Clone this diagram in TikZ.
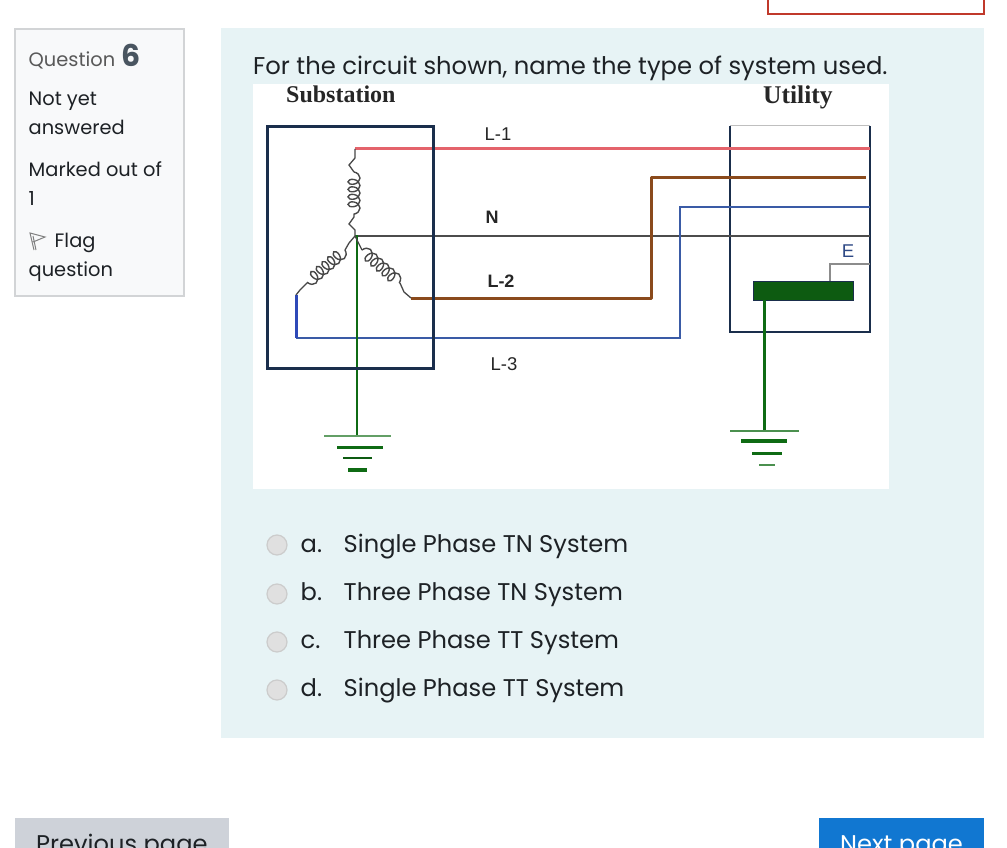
\documentclass[tikz,border=0pt]{standalone}
\usepackage{fontspec}
\setmainfont{Poppins}
\newfontfamily\photoserif{Liberation Serif}
\newfontfamily\photosans{Liberation Sans}
\usepackage{tikz}
\usetikzlibrary{decorations.pathmorphing}
\definecolor{panelbg}{HTML}{E7F3F5}
\definecolor{sidebg}{HTML}{F8F9FA}
\definecolor{sideline}{HTML}{D2D4D6}
\definecolor{boxnavy}{HTML}{1A2E4C}
\definecolor{topred}{HTML}{C0392B}
\definecolor{wirered}{HTML}{E4636B}
\definecolor{wirebrown}{HTML}{8A4A1C}
\definecolor{wireblue}{HTML}{3A5BA6}
\definecolor{wiregreen}{HTML}{0F6B14}
\definecolor{coilgray}{HTML}{484848}
\definecolor{txtgray}{HTML}{1D2125}
\definecolor{numgray}{HTML}{495560}
\definecolor{prevbg}{HTML}{CED2D9}
\definecolor{nextbg}{HTML}{1177D1}
\tikzstyle{txt} = [anchor=base west,inner sep=0pt,text=txtgray]
\tikzstyle{uitext} = [txt,font=\fontsize{19.4}{24}\selectfont]
\tikzstyle{choice} = [txt,font=\fontsize{24.15}{30}\selectfont]
\tikzstyle{wirelabel} = [anchor=center,inner sep=0pt,text=black!85,font=\photosans\fontsize{18.5}{22}\selectfont]
\tikzstyle{radio} = [circle,draw=black!20,fill=black!12,line width=1.2pt,minimum size=20pt,inner sep=0pt]
\tikzstyle{coil} = [draw=coilgray,line width=1.4pt,decorate,decoration={coil,aspect=0.7,segment length=7.5pt,amplitude=6pt}]
\tikzstyle{coillead} = [coilgray,line width=1.3pt]

\begin{document}
\begin{tikzpicture}[yscale=-1,x=1pt,y=1pt]
	\clip (0,0) rectangle (1007,848);
	\fill[white] (0,0) rectangle (1007,848);
	% page furniture
	\draw[topred,line width=1.5pt] (768,-5) rectangle (984,14);
	\draw[sideline,fill=sidebg,line width=2pt] (15,29) rectangle (184,296);
	\fill[panelbg] (221,28) rectangle (984,738);
	\fill[white] (253,84) rectangle (889,489);
	\fill[prevbg] (15,818) rectangle (229,860);
	\fill[nextbg] (819,818) rectangle (984,860);
	% side block
	\node at (28.5,67)[uitext,text=black!65] (qword) {Question};
	\node at (121,67)[txt,text=numgray,font=\fontsize{30}{30}\selectfont\bfseries] (qnum) {6};
	\node at (28.5,106)[uitext] (notyet) {Not yet};
	\node at (28.5,135)[uitext] (answered) {answered};
	\node at (28.5,176)[uitext] (marked) {Marked out of};
	\node at (28.5,205)[uitext] (one) {1};
	\draw[black!50,line width=1pt] (34,250) -- (30,233) -- (45,237) -- (33,242);
	\draw[black!50,line width=1pt] (36,250) -- (33,236);
	\node at (54.5,247)[uitext] (flag) {Flag};
	\node at (28.5,276)[uitext] (flagq) {question};
	% question
	\node at (253,74.5)[txt,font=\fontsize{24.25}{30}\selectfont] (title) {For the circuit shown, name the type of system used.};
	\node at (286,103)[anchor=base west,inner sep=0pt,text=black!85,font=\photoserif\bfseries\fontsize{24}{28}\selectfont] (substation) {Substation};
	\node at (763,104)[anchor=base west,inner sep=0pt,text=black!85,font=\photoserif\bfseries\fontsize{25.5}{28}\selectfont] (utility) {Utility};
	\node at (498,134)[wirelabel] (lone) {L-1};
	\node at (492,217)[wirelabel,font=\photosans\bfseries\fontsize{18}{22}\selectfont] (neutral) {N};
	\node at (501,281)[wirelabel,font=\photosans\bfseries\fontsize{18}{22}\selectfont] (ltwo) {L-2};
	\node at (504,364)[wirelabel] (lthree) {L-3};
	\node at (848,251)[wirelabel,text=wireblue!80!black] (earth) {E};
	% wire points
	\coordinate (star) at (355,236);
	\coordinate (redstart) at (355,149);
	\coordinate (redend) at (870,149);
	\coordinate (neutralend) at (870,236);
	\coordinate (coilatop) at (354,172);
	\coordinate (coilabot) at (354,217);
	\coordinate (coilbtop) at (345,250);
	\coordinate (coilbbot) at (307,283);
	\coordinate (coilctop) at (362,250);
	\coordinate (coilcbot) at (400,283);
	\coordinate (bluestart) at (296,295);
	\coordinate (bluecorner) at (296,338);
	\coordinate (blueup) at (680,338);
	\coordinate (blueturn) at (680,207);
	\coordinate (blueend) at (870,207);
	\coordinate (brownstart) at (411,298);
	\coordinate (brownup) at (651,298);
	\coordinate (brownturn) at (651,178);
	\coordinate (brownend) at (866,178);
	\coordinate (earthright) at (870,264);
	\coordinate (earthcorner) at (830,264);
	\coordinate (earthbar) at (830,281);
	\coordinate (groundleft) at (357,436);
	\coordinate (barbottom) at (764,300);
	\coordinate (groundright) at (764,431);
	% boxes
	\draw[black!25,line width=1pt] (730,126) -- (870,126);
	\draw[boxnavy,line width=2pt] (730,126) -- (730,332) -- (870,332) -- (870,126);
	% wires
	\draw[wirered,line width=3pt] (redstart) -- (redend);
	\draw[black!70,line width=1.3pt] (star) -- (neutralend);
	\draw[wirebrown,line width=3pt,line join=round] (brownstart) -- (brownup) -- (brownturn) -- (brownend);
	\draw[wireblue,line width=1.6pt] (bluecorner) -- (blueup) -- (blueturn) -- (blueend);
	\draw[wireblue!80!blue,line width=3pt] (bluestart) -- (bluecorner);
	\draw[wiregreen,line width=2.2pt] (star) -| (groundleft);
	% coils
	\draw[coillead] (redstart) -- (355,158) -- (349,165) -- (coilatop);
	\draw[coil] (coilatop) -- (coilabot);
	\draw[coillead] (coilabot) -- (349,224) -- (355,230) -- (star);
	\draw[coillead] (star) -- (349,243) -- (coilbtop);
	\draw[coil] (coilbtop) -- (coilbbot);
	\draw[coillead] (coilbbot) -- (300,290) -- (bluestart);
	\draw[coillead] (star) -- (coilctop);
	\draw[coil] (coilctop) -- (coilcbot);
	\draw[coillead] (coilcbot) -- (404,292) -- (brownstart);
	\draw[boxnavy,line width=3pt] (267,127) rectangle (433,368);
	\draw[black!45,line width=1.2pt] (earthright) -- (earthcorner) -- (earthbar);
	% earth bar and grounds
	\draw[boxnavy,fill=wiregreen!85!black,line width=1pt] (753,281) rectangle (853,300);
	\draw[wiregreen,line width=3pt] (barbottom) -- (groundright);
	\draw[wiregreen!65,line width=2.6pt] (324,436) -- (391,436);
	\draw[wiregreen,line width=3pt] (337,447) -- (383,447);
	\draw[wiregreen!85!black,line width=2.8pt] (343,458) -- (372,458);
	\draw[wiregreen,line width=4pt] (348,470) -- (367,470);
	\draw[wiregreen!75,line width=2.4pt] (730,431) -- (799,431);
	\draw[wiregreen,line width=3.4pt] (741,441) -- (787,441);
	\draw[wiregreen,line width=3pt] (752,453) -- (782,453);
	\draw[wiregreen!75,line width=2.6pt] (759,465) -- (775,465);
	% choices
	\node at (277,545)[radio] (ra) {};
	\node at (277,594)[radio] (rb) {};
	\node at (277,642)[radio] (rc) {};
	\node at (277,690)[radio] (rd) {};
	\node at (300.5,552)[choice] (la) {a.};
	\node at (300.5,600)[choice] (lb) {b.};
	\node at (300.5,648)[choice] (lc) {c.};
	\node at (300.5,696)[choice] (ld) {d.};
	\node at (343.5,552)[choice] (ca) {Single Phase TN System};
	\node at (343.5,600)[choice] (cb) {Three Phase TN System};
	\node at (343.5,648)[choice] (cc) {Three Phase TT System};
	\node at (343.5,696)[choice] (cd) {Single Phase TT System};
	% buttons
	\node at (36,852)[choice] (prev) {Previous page};
	\node at (840,852)[choice,text=white] (next) {Next page};
\end{tikzpicture}
\end{document}
